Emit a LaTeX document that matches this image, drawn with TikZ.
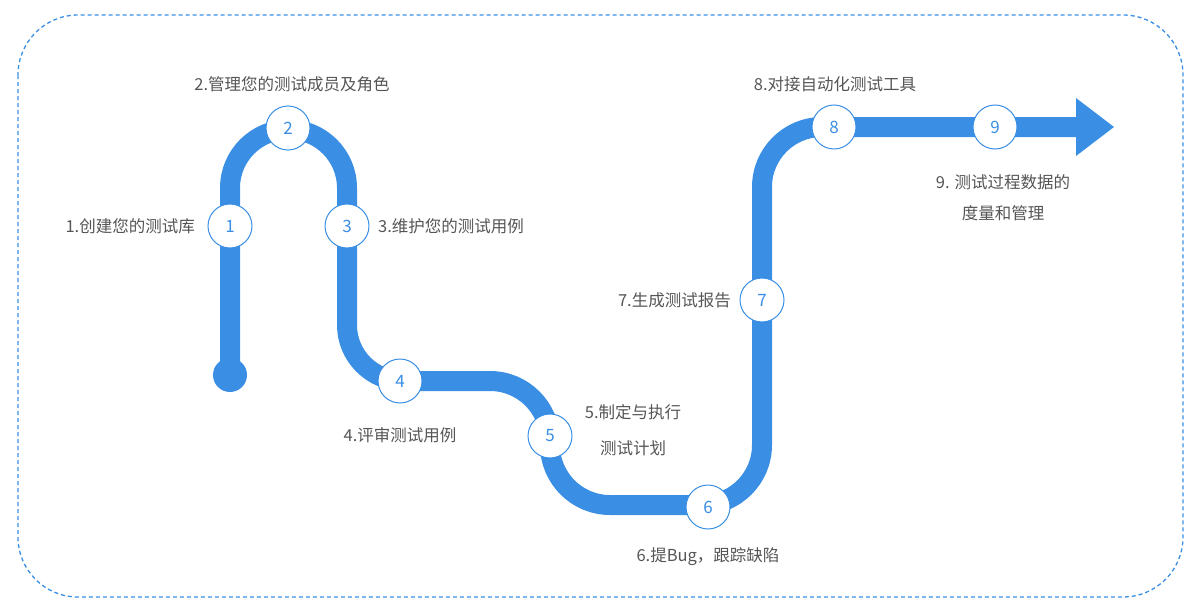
\documentclass[tikz,border=0pt]{standalone}
\usepackage{fontspec}
\setmainfont{Noto Sans CJK SC}
\begin{document}
\begin{tikzpicture}[x=1pt,y=-1pt,
  num/.style={circle,draw=pathblue,line width=1pt,fill=white,minimum size=44pt,inner sep=0pt,text=pathblue,font=\fontsize{17}{17}\selectfont},
  lbl/.style={text=lblgray,font=\fontsize{16.5}{18}\selectfont,inner sep=0pt}]
\definecolor{pathblue}{HTML}{3A8FE5}
\definecolor{lblgray}{HTML}{555555}
\useasboundingbox (0,0) rectangle (1200,605);
\draw[pathblue,line width=1.3pt,dash pattern=on 4pt off 3pt,rounded corners=60pt] (18,15) rectangle (1183,597);
% main path
\fill[pathblue] (230,375) circle (17);
\draw[pathblue,line width=20pt]
  (230,375) -- (230,188) arc[start angle=180,end angle=0,x radius=58.5,y radius=-58.5]
  -- (347,325) arc[start angle=180,end angle=270,x radius=56,y radius=-56]
  -- (490,381) arc[start angle=90,end angle=0,x radius=60,y radius=-60]
  -- (550,445) arc[start angle=180,end angle=270,x radius=60,y radius=-60]
  -- (702,505) arc[start angle=270,end angle=360,x radius=60,y radius=-60]
  -- (762,187) arc[start angle=180,end angle=90,x radius=60,y radius=-60]
  -- (1078,127);
\fill[pathblue] (1076,98) -- (1114,127) -- (1076,156) -- cycle;
% numbered circles
\node[num] (n1) at (230,226) {1};
\node[num] (n2) at (288,128) {2};
\node[num] (n3) at (347,226) {3};
\node[num] (n4) at (400,381) {4};
\node[num] (n5) at (550,436) {5};
\node[num] (n6) at (708,507) {6};
\node[num] (n7) at (762,300) {7};
\node[num] (n8) at (834,127) {8};
\node[num] (n9) at (995,127) {9};
% labels
\node[lbl,anchor=east] (l1) at (195,226) {1.创建您的测试库};
\node[lbl] (l2) at (292,84) {2.管理您的测试成员及角色};
\node[lbl,anchor=west] (l3) at (378,226) {3.维护您的测试用例};
\node[lbl] (l4) at (400,435) {4.评审测试用例};
\node[lbl] (l5a) at (633,412) {5.制定与执行};
\node[lbl] (l5b) at (633,448) {测试计划};
\node[lbl] (l6) at (708,557) {6.提Bug，跟踪缺陷};
\node[lbl,anchor=east] (l7) at (731,300) {7.生成测试报告};
\node[lbl] (l8) at (835,84) {8.对接自动化测试工具};
\node[lbl] (l9a) at (1003,182) {9. 测试过程数据的};
\node[lbl] (l9b) at (1003,213) {度量和管理};
\end{tikzpicture}
\end{document}
